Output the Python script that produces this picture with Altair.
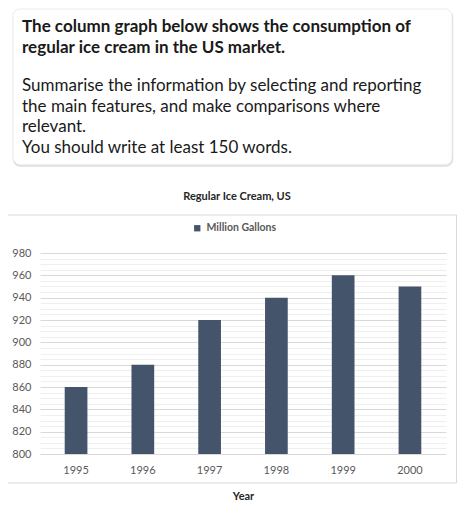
import altair as alt
import pandas as pd

# chart values
years = ["1995", "1996", "1997", "1998", "1999", "2000"]
gallons = [860, 880, 920, 940, 960, 950]
series_name = "Million Gallons"
y_ticks = list(range(800, 981, 5))

heading_lines = ["The column graph below shows the consumption of",
                 "regular ice cream in the US market."]
task_lines = ["Summarise the information by selecting and reporting",
              "the main features, and make comparisons where",
              "relevant.",
              "You should write at least 150 words."]
chart_title = "Regular Ice Cream, US"

df = pd.DataFrame({"Year": years, "Gallons": gallons, "Series": series_name})
one = pd.DataFrame({"a": [0]})

PLOT_W, PLOT_H = 406, 201
FONT = "Lato"

# decoration boxes (pixel positions relative to the plot area)
card_shadow = alt.Chart(one).mark_rect(
    fill="#ffffff", stroke="#dcdcdc", strokeWidth=1.5, cornerRadius=7
).encode(x=alt.value(-26.5), x2=alt.value(412.5), y=alt.value(-242.5), y2=alt.value(-87))

card = alt.Chart(one).mark_rect(
    fill="#ffffff", stroke="#ececec", strokeWidth=1, cornerRadius=7
).encode(x=alt.value(-27), x2=alt.value(412), y=alt.value(-244), y2=alt.value(-88.5))

frame = alt.Chart(one).mark_rect(
    fill="transparent", stroke="#d9d9d9", strokeWidth=1
).encode(x=alt.value(-32.5), x2=alt.value(416.5), y=alt.value(-38), y2=alt.value(230))

heading = alt.Chart(pd.DataFrame({"t": ["\n".join(heading_lines)]})).mark_text(
    align="left", baseline="middle", font=FONT, fontSize=17, fontWeight="bold",
    color="#1a1a1a", lineBreak="\n", lineHeight=21
).encode(x=alt.value(-18), y=alt.value(-226), text="t:N")

task = alt.Chart(pd.DataFrame({"t": ["\n".join(task_lines)]})).mark_text(
    align="left", baseline="middle", font=FONT, fontSize=17,
    color="#1a1a1a", lineBreak="\n", lineHeight=20.5
).encode(x=alt.value(-18), y=alt.value(-167), text="t:N")

title = alt.Chart(pd.DataFrame({"t": [chart_title]})).mark_text(
    align="center", baseline="middle", font=FONT, fontSize=11, fontWeight="bold",
    color="#262626"
).encode(x=alt.value(197), y=alt.value(-56), text="t:N")

bars = alt.Chart(df).mark_bar(clip=True).encode(
    x=alt.X("Year:N", title="Year",
            scale=alt.Scale(paddingInner=0.66, paddingOuter=0.37),
            axis=alt.Axis(labelAngle=0, ticks=False, domain=False, labelPadding=10,
                          labelFont=FONT, labelFontSize=11, labelColor="#595959",
                          titleFont=FONT, titleFontSize=11, titleFontWeight="bold",
                          titleColor="#262626", titlePadding=15)),
    y=alt.Y("Gallons:Q", title=None,
            scale=alt.Scale(domain=[800, 980], nice=False, zero=False),
            axis=alt.Axis(values=y_ticks, ticks=False, domain=False, labelPadding=9,
                          labelFont=FONT, labelFontSize=11, labelColor="#595959",
                          labelExpr="datum.value % 20 == 0 ? datum.label : ''",
                          gridColor={"condition": {"test": "datum.value % 20 == 0", "value": "#d9d9d9"},
                                     "value": "#efefef"},
                          gridWidth=1)),
    color=alt.Color("Series:N", scale=alt.Scale(range=["#44546a"]),
                    legend=alt.Legend(title=None, orient="none", legendX=152, legendY=-30,
                                      symbolType="square", symbolSize=40, symbolStrokeWidth=0,
                                      labelFont=FONT, labelFontSize=10.5, labelColor="#595959",
                                      labelFontWeight="bold"))
)

chart = alt.layer(card_shadow, card, frame, heading, task, title, bars).properties(
    width=PLOT_W, height=PLOT_H,
    autosize=alt.AutoSizeParams(type="none"),
    padding={"left": 32, "top": 245, "right": 11, "bottom": 50},
    background="#ffffff"
).configure_view(stroke=None)

chart.save("out.html", embed_options={"renderer": "svg", "actions": False})
